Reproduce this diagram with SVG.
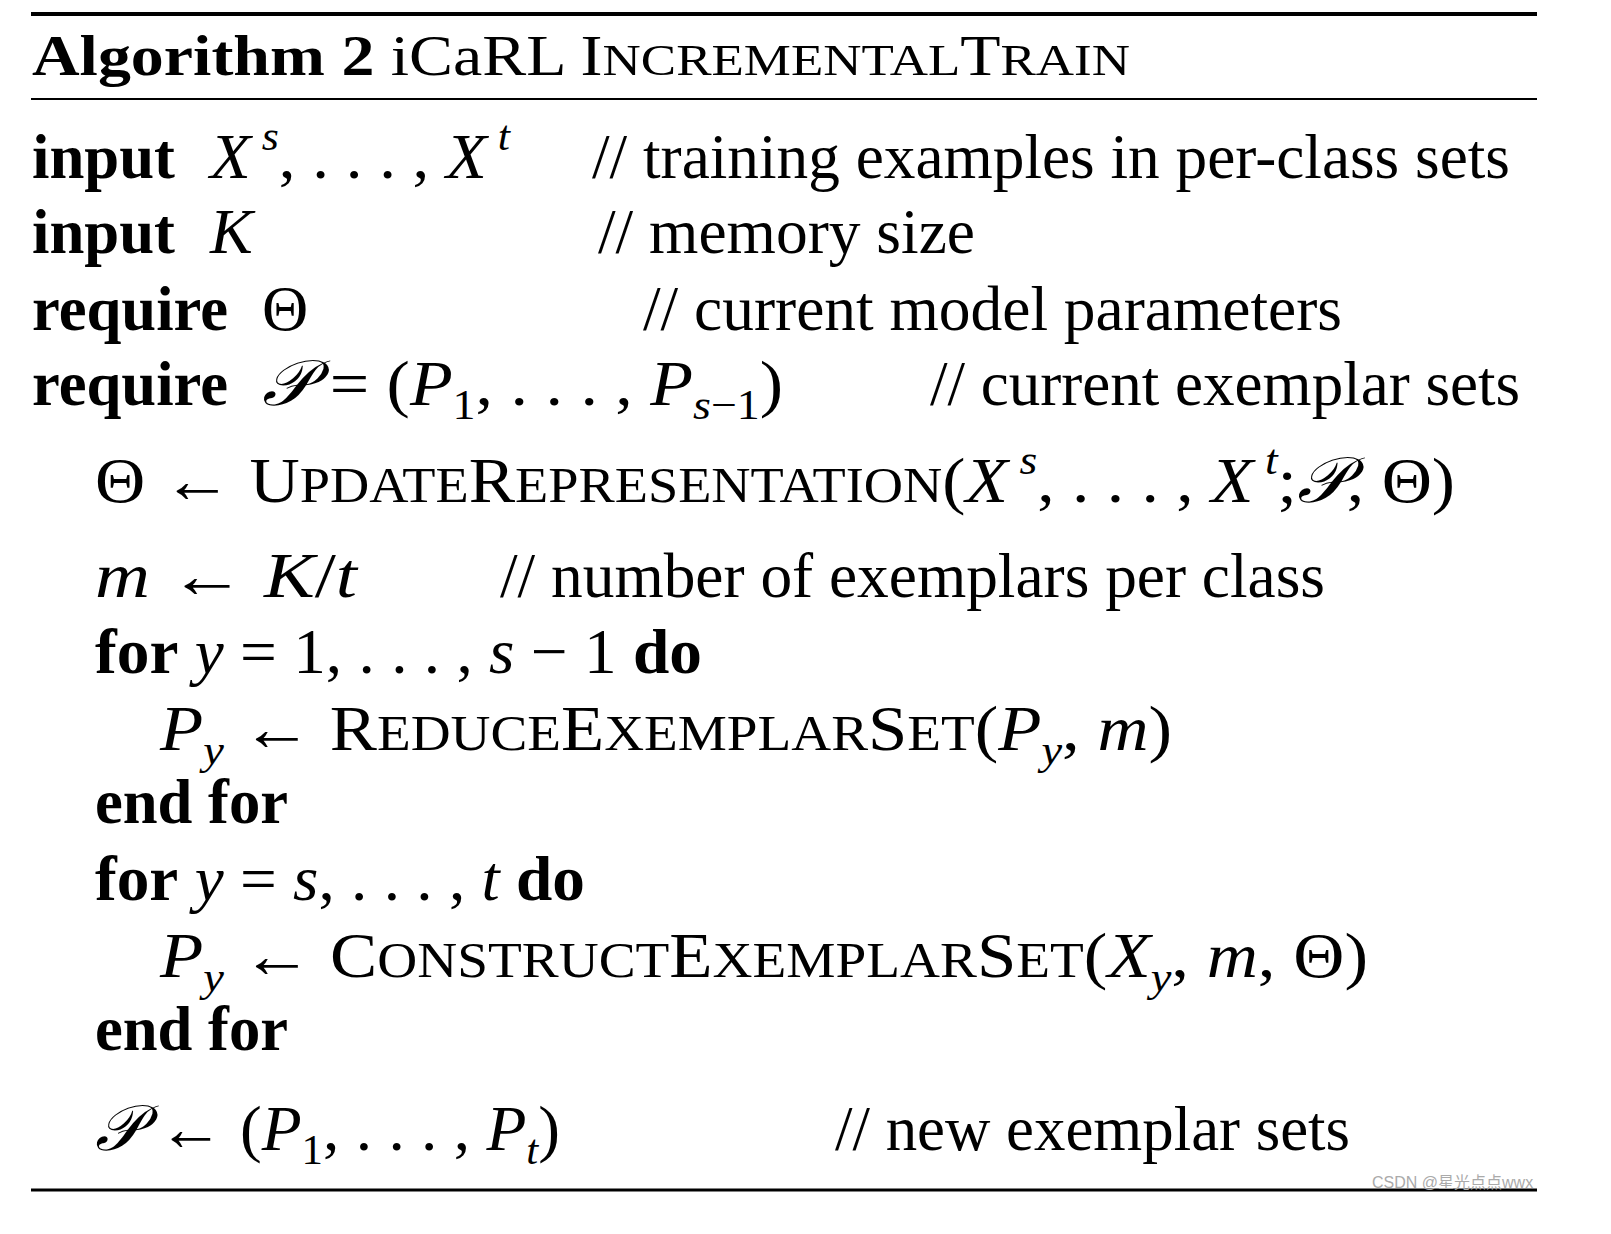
<svg xmlns="http://www.w3.org/2000/svg" width="1611" height="1234" viewBox="0 0 1611 1234">
<style>
text{font-family:"Liberation Serif","DejaVu Serif",serif;font-size:64px;fill:#000}
.b{font-weight:bold}
.i{font-style:italic}
.sc{font-size:50px}
.s{font-size:42px}
.cal{font-family:"DejaVu Serif",serif;font-style:italic}
</style>
<rect width="1611" height="1234" fill="#fff"/>
<line x1="31" y1="14" x2="1537" y2="14" stroke="#000" stroke-width="4"/>
<line x1="31" y1="99" x2="1537" y2="99" stroke="#000" stroke-width="2"/>
<line x1="31" y1="1190" x2="1537" y2="1190" stroke="#000" stroke-width="3"/>
<text x="32" y="75" style="font-size:56px" textLength="1098" lengthAdjust="spacingAndGlyphs"><tspan class="b">Algorithm 2</tspan> iCaRL I<tspan style="font-size:45px">NCREMENTAL</tspan>T<tspan style="font-size:45px">RAIN</tspan></text>

<text x="32" y="178" class="b" textLength="143" lengthAdjust="spacingAndGlyphs">input</text>
<text x="210" y="178" textLength="300" lengthAdjust="spacingAndGlyphs"><tspan class="i">X</tspan><tspan class="i s" dy="-28"> s</tspan><tspan dy="28">, . . . , </tspan><tspan class="i">X</tspan><tspan class="i s" dy="-28"> t</tspan></text>
<text x="592" y="178" textLength="918" lengthAdjust="spacingAndGlyphs">// training examples in per-class sets</text>

<text x="32" y="253" class="b" textLength="143" lengthAdjust="spacingAndGlyphs">input</text>
<text x="210" y="253" class="i">K</text>
<text x="598" y="253" textLength="377" lengthAdjust="spacingAndGlyphs">// memory size</text>

<text x="32" y="330" class="b" textLength="196" lengthAdjust="spacingAndGlyphs">require</text>
<text x="262" y="330">Θ</text>
<text x="643" y="330" textLength="699" lengthAdjust="spacingAndGlyphs">// current model parameters</text>

<text x="32" y="405" class="b" textLength="196" lengthAdjust="spacingAndGlyphs">require</text>
<text x="262" y="405" textLength="521" lengthAdjust="spacingAndGlyphs"><tspan class="cal">𝒫</tspan> = (<tspan class="i">P</tspan><tspan class="s" dy="14">1</tspan><tspan dy="-14">, . . . , </tspan><tspan class="i">P</tspan><tspan class="i s" dy="14">s</tspan><tspan class="s">−1</tspan><tspan dy="-14">)</tspan></text>
<text x="930" y="405" textLength="590" lengthAdjust="spacingAndGlyphs">// current exemplar sets</text>

<text x="95" y="502" textLength="1360" lengthAdjust="spacingAndGlyphs">Θ ← U<tspan class="sc">PDATE</tspan>R<tspan class="sc">EPRESENTATION</tspan>(<tspan class="i">X</tspan><tspan class="i s" dy="-28"> s</tspan><tspan dy="28">, . . . , </tspan><tspan class="i">X</tspan><tspan class="i s" dy="-28"> t</tspan><tspan dy="28">;</tspan><tspan class="cal">𝒫</tspan>, Θ)</text>

<text x="95" y="597" textLength="262" lengthAdjust="spacingAndGlyphs"><tspan class="i">m</tspan> ← <tspan class="i">K</tspan>/<tspan class="i">t</tspan></text>
<text x="500" y="597" textLength="825" lengthAdjust="spacingAndGlyphs">// number of exemplars per class</text>

<text x="95" y="673" textLength="607" lengthAdjust="spacingAndGlyphs"><tspan class="b">for</tspan> <tspan class="i">y</tspan> = 1, . . . , <tspan class="i">s</tspan> − 1 <tspan class="b">do</tspan></text>
<text x="160" y="750" textLength="1012" lengthAdjust="spacingAndGlyphs"><tspan class="i">P</tspan><tspan class="i s" dy="14">y</tspan><tspan dy="-14">  ← R</tspan><tspan class="sc">EDUCE</tspan>E<tspan class="sc">XEMPLAR</tspan>S<tspan class="sc">ET</tspan>(<tspan class="i">P</tspan><tspan class="i s" dy="14">y</tspan><tspan dy="-14">, </tspan><tspan class="i">m</tspan>)</text>
<text x="95" y="823" class="b" textLength="193" lengthAdjust="spacingAndGlyphs">end for</text>
<text x="95" y="900" textLength="490" lengthAdjust="spacingAndGlyphs"><tspan class="b">for</tspan> <tspan class="i">y</tspan> = <tspan class="i">s</tspan>, . . . , <tspan class="i">t</tspan> <tspan class="b">do</tspan></text>
<text x="160" y="977" textLength="1208" lengthAdjust="spacingAndGlyphs"><tspan class="i">P</tspan><tspan class="i s" dy="14">y</tspan><tspan dy="-14">  ← C</tspan><tspan class="sc">ONSTRUCT</tspan>E<tspan class="sc">XEMPLAR</tspan>S<tspan class="sc">ET</tspan>(<tspan class="i">X</tspan><tspan class="i s" dy="14">y</tspan><tspan dy="-14">, </tspan><tspan class="i">m</tspan>, Θ)</text>
<text x="95" y="1050" class="b" textLength="193" lengthAdjust="spacingAndGlyphs">end for</text>
<text x="95" y="1150" textLength="465" lengthAdjust="spacingAndGlyphs"><tspan class="cal">𝒫</tspan> ← (<tspan class="i">P</tspan><tspan class="s" dy="14">1</tspan><tspan dy="-14">, . . . , </tspan><tspan class="i">P</tspan><tspan class="i s" dy="14">t</tspan><tspan dy="-14">)</tspan></text>
<text x="835" y="1150" textLength="515" lengthAdjust="spacingAndGlyphs">// new exemplar sets</text>

<text x="1372" y="1188" style="font-family:'Liberation Sans','Noto Sans CJK SC',sans-serif;font-size:16px;fill:#aaa">CSDN @星光点点wwx</text>
</svg>
